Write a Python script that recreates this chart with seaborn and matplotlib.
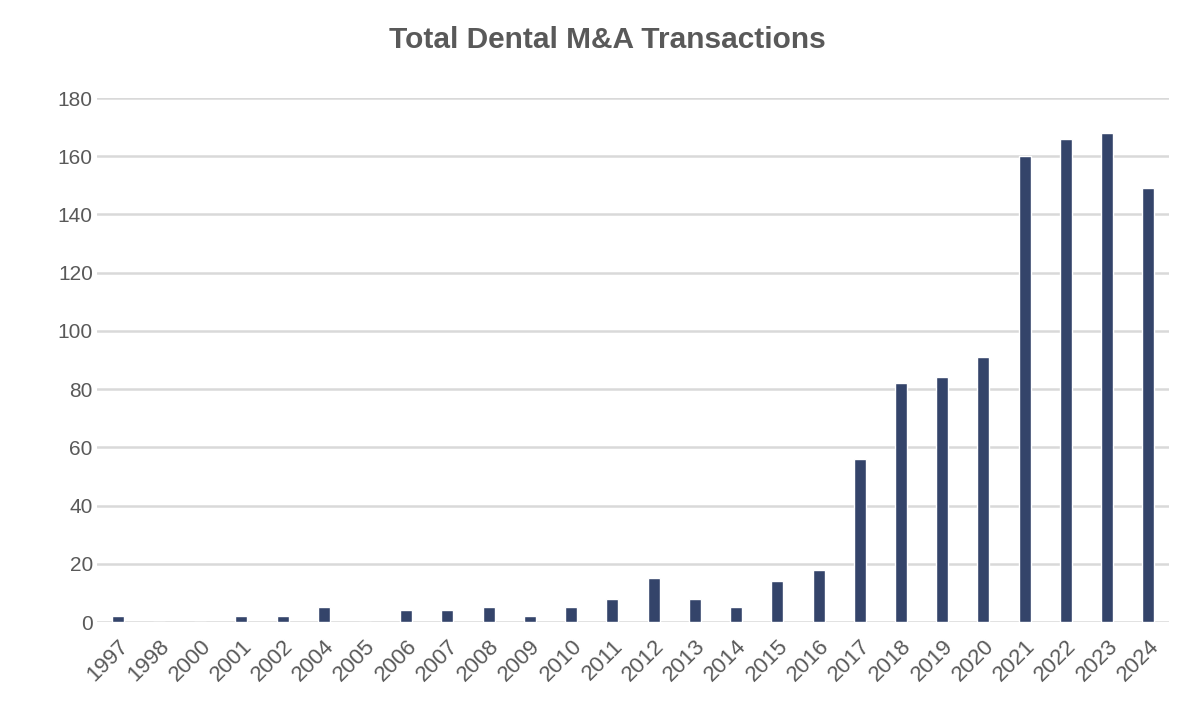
import matplotlib
matplotlib.use("Agg")
import matplotlib.pyplot as plt
import seaborn as sns
import pandas as pd

years = ["1997", "1998", "2000", "2001", "2002", "2004", "2005", "2006", "2007",
         "2008", "2009", "2010", "2011", "2012", "2013", "2014", "2015", "2016",
         "2017", "2018", "2019", "2020", "2021", "2022", "2023", "2024"]
transactions = [2, 0, 0, 2, 2, 5, 0, 4, 4, 5, 2, 5, 8, 15, 8, 5, 14, 18,
                56, 82, 84, 91, 160, 166, 168, 149]
y_ticks = [0, 20, 40, 60, 80, 100, 120, 140, 160, 180]

sns.set_theme(style="white")
plt.rcParams["font.family"] = ["Liberation Sans", "DejaVu Sans"]

df = pd.DataFrame({"year": years, "count": transactions})

fig = plt.figure(figsize=(12.02, 7.15), dpi=100)
ax = fig.add_axes([97 / 1202, 1 - 622 / 715, (1169 - 97) / 1202, (622 - 98) / 715])

sns.barplot(data=df, x="year", y="count", color="#34446A", width=0.29,
            saturation=1, ax=ax, zorder=3)

ax.set_ylim(0, 180)
ax.set_yticks(y_ticks)
ax.set_xlim(-0.5, len(years) - 0.5)
ax.yaxis.grid(True, color="#d9d9d9", linewidth=1.8, zorder=0)
ax.xaxis.grid(False)
for s in ax.spines.values():
    s.set_visible(False)
ax.set_xlabel("")
ax.set_ylabel("")
ax.tick_params(axis="y", labelsize=15, labelcolor="#595959", length=0, pad=3)
ax.tick_params(axis="x", labelsize=16, labelcolor="#595959", length=0, pad=10)
for lbl in ax.get_xticklabels():
    lbl.set_rotation(45)
    lbl.set_ha("right")
    lbl.set_rotation_mode("anchor")

fig.text(0.5054, 1 - 40 / 715, "Total Dental M&A Transactions", ha="center", va="center",
         fontsize=21.5, fontweight="bold", color="#595959")

fig.savefig("out.png", dpi=100)
